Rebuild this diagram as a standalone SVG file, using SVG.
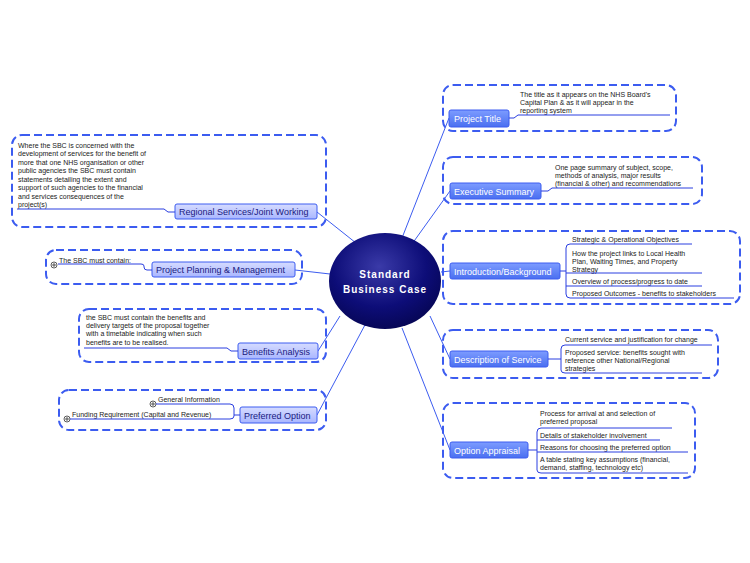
<svg xmlns="http://www.w3.org/2000/svg" width="750" height="563" viewBox="0 0 750 563">
<defs>
<radialGradient id="cg" cx="0.45" cy="0.35" r="0.7"><stop offset="0" stop-color="#3a3aa8"/><stop offset="0.6" stop-color="#0d0d78"/><stop offset="1" stop-color="#050550"/></radialGradient>
<linearGradient id="rg" x1="0" y1="0" x2="0" y2="1"><stop offset="0" stop-color="#7d9cff"/><stop offset="1" stop-color="#4a6ff0"/></linearGradient>
<linearGradient id="lg" x1="0" y1="0" x2="0" y2="1"><stop offset="0" stop-color="#d6dcff"/><stop offset="1" stop-color="#a9b6ff"/></linearGradient>
</defs>
<style>
.box{fill:none;stroke:#3c5cf0;stroke-width:2;stroke-dasharray:8,4}
.rn{fill:url(#rg);stroke:#3c5cf0;stroke-width:1}
.ln{fill:url(#lg);stroke:#3c5cf0;stroke-width:1}
.rt{font-family:"Liberation Sans",Arial,sans-serif;font-size:9px;fill:#fff}
.lt{font-family:"Liberation Sans",Arial,sans-serif;font-size:9px;fill:#1a1a80}
.t{font-family:"Liberation Sans",Arial,sans-serif;font-size:7px;fill:#222}
.c{fill:none;stroke:#3c5cf0;stroke-width:1}
.u{fill:none;stroke:#2a3ee0;stroke-width:1}
.p{fill:#fff;stroke:#333;stroke-width:0.8}
</style>
<g id="connectors">
<path class="c" d="M402 238 L449 118"/>
<path class="c" d="M412 244 L450 191"/>
<path class="c" d="M441 272 L450 271"/>
<path class="c" d="M430 316 L450 359"/>
<path class="c" d="M402 328 L450 450"/>
<path class="c" d="M317 212 L356 243"/>
<path class="c" d="M295 270 L330 274"/>
<path class="c" d="M318 351 L340 316"/>
<path class="c" d="M317 415 L366 323"/>
</g>
<g id="center">
<ellipse cx="385" cy="281" rx="56" ry="48" fill="url(#cg)"/>
<text x="385" y="278" text-anchor="middle" font-family="Liberation Sans,Arial,sans-serif" font-size="10" font-weight="bold" fill="#fff" letter-spacing="1">Standard</text>
<text x="385" y="293" text-anchor="middle" font-family="Liberation Sans,Arial,sans-serif" font-size="10" font-weight="bold" fill="#fff" letter-spacing="1">Business Case</text>
</g>
<g id="project-title">
<rect class="box" x="443" y="85" width="233" height="46" rx="10"/>
<rect class="rn" x="449" y="110" width="60" height="17" rx="2"/>
<text class="rt" x="454" y="122">Project Title</text>
<text class="t" x="520" y="97">The title as it appears on the NHS Board's</text>
<text class="t" x="520" y="105">Capital Plan &amp; as it will appear in the</text>
<text class="t" x="520" y="113">reporting system</text>
<path class="u" d="M509 118 H514 L518 115 H670"/>
</g>
<g id="executive-summary">
<rect class="box" x="443" y="157" width="259" height="47" rx="10"/>
<rect class="rn" x="450" y="183" width="91" height="16" rx="2"/>
<text class="rt" x="454" y="195">Executive Summary</text>
<text class="t" x="555" y="170">One page summary of subject, scope,</text>
<text class="t" x="555" y="178">methods of analysis, major results</text>
<text class="t" x="555" y="186">(financial &amp; other) and recommendations</text>
<path class="u" d="M541 191 H548 L552 188 H693"/>
</g>
<g id="introduction">
<rect class="box" x="443" y="231" width="297" height="73" rx="10"/>
<rect class="rn" x="450" y="263" width="110" height="16" rx="2"/>
<text class="rt" x="454" y="275">Introduction/Background</text>
<text class="t" x="572" y="242">Strategic &amp; Operational Objectives</text>
<text class="t" x="572" y="256">How the project links to Local Health</text>
<text class="t" x="572" y="264">Plan, Waiting Times, and Property</text>
<text class="t" x="572" y="272">Strategy</text>
<text class="t" x="572" y="284">Overview of process/progress to date</text>
<text class="t" x="572" y="296">Proposed Outcomes - benefits to stakeholders</text>
<path class="u" d="M560 271 H566 M570 244 Q566 244 566 248 V294 Q566 298 570 298 H734 M570 244 H692 M566 273 H702 M566 286 H702"/>
</g>
<g id="description">
<rect class="box" x="443" y="330" width="275" height="48" rx="10"/>
<rect class="rn" x="450" y="351" width="98" height="16" rx="2"/>
<text class="rt" x="454" y="363">Description of Service</text>
<text class="t" x="565" y="342">Current service and justification for change</text>
<text class="t" x="565" y="355">Proposed service: benefits sought with</text>
<text class="t" x="565" y="363">reference other National/Regional</text>
<text class="t" x="565" y="371">strategies</text>
<path class="u" d="M548 359 H561 M565 345 Q561 345 561 349 V370 Q561 373 565 373 H702 M565 345 H712"/>
</g>
<g id="option-appraisal">
<rect class="box" x="443" y="403" width="252" height="75" rx="10"/>
<rect class="rn" x="450" y="442" width="78" height="16" rx="2"/>
<text class="rt" x="454" y="454">Option Appraisal</text>
<text class="t" x="540" y="416">Process for arrival at and selection of</text>
<text class="t" x="540" y="424">preferred proposal</text>
<text class="t" x="540" y="438">Details of stakeholder involvement</text>
<text class="t" x="540" y="450">Reasons for choosing the preferred option</text>
<text class="t" x="540" y="462">A table stating key assumptions (financial,</text>
<text class="t" x="540" y="470">demand, staffing, technology etc)</text>
<path class="u" d="M528 450 H537 M541 428 Q537 428 537 432 V470 Q537 473 541 473 H688 M541 428 H672 M537 440 H660 M537 452 H688"/>
</g>
<g id="regional-services">
<rect class="box" x="12" y="135" width="314" height="92" rx="10"/>
<rect class="ln" x="175" y="204" width="142" height="15" rx="2"/>
<text class="lt" x="179" y="215">Regional Services/Joint Working</text>
<text class="t" x="18" y="148">Where the SBC is concerned with the</text>
<text class="t" x="18" y="156">development of services for the benefit of</text>
<text class="t" x="18" y="165">more that one NHS organisation or other</text>
<text class="t" x="18" y="173">public agencies the SBC must contain</text>
<text class="t" x="18" y="182">statements detailing the extent and</text>
<text class="t" x="18" y="190">support of such agencies to the financial</text>
<text class="t" x="18" y="199">and services consequences of the</text>
<text class="t" x="18" y="207">project(s)</text>
<path class="u" d="M175 212 H168 L164 209 H17"/>
</g>
<g id="project-planning">
<rect class="box" x="46" y="250" width="256" height="34" rx="10"/>
<rect class="ln" x="152" y="262" width="143" height="15" rx="2"/>
<text class="lt" x="156" y="273">Project Planning &amp; Management</text>
<text class="t" x="59" y="263">The SBC must contain:</text>
<circle class="p" cx="54" cy="265" r="3"/>
<path d="M52 265 H56 M54 263 V267" stroke="#333" stroke-width="0.8"/>
<path class="u" d="M152 270 H147 Q144 270 144 267 V266 Q144 264 141 264 H58"/>
</g>
<g id="benefits-analysis">
<rect class="box" x="79" y="309" width="247" height="53" rx="10"/>
<rect class="ln" x="238" y="343" width="80" height="16" rx="2"/>
<text class="lt" x="242" y="355">Benefits Analysis</text>
<text class="t" x="86" y="320">the SBC must contain the benefits and</text>
<text class="t" x="86" y="328">delivery targets of the proposal together</text>
<text class="t" x="86" y="336">with a timetable indicating when such</text>
<text class="t" x="86" y="345">benefits are to be realised.</text>
<path class="u" d="M238 351 H231 L227 348 H84"/>
</g>
<g id="preferred-option">
<rect class="box" x="59" y="390" width="267" height="40" rx="10"/>
<rect class="ln" x="240" y="407" width="77" height="16" rx="2"/>
<text class="lt" x="244" y="419">Preferred Option</text>
<text class="t" x="158" y="402">General Information</text>
<text class="t" x="72" y="417">Funding Requirement (Capital and Revenue)</text>
<circle class="p" cx="153" cy="404" r="3"/>
<path d="M151 404 H155 M153 402 V406" stroke="#333" stroke-width="0.8"/>
<circle class="p" cx="67" cy="419" r="3"/>
<path d="M65 419 H69 M67 417 V421" stroke="#333" stroke-width="0.8"/>
<path class="u" d="M240 415 H234 M156 404 H230 Q234 404 234 408 V416 Q234 419 230 419 H70"/>
</g>
</svg>
